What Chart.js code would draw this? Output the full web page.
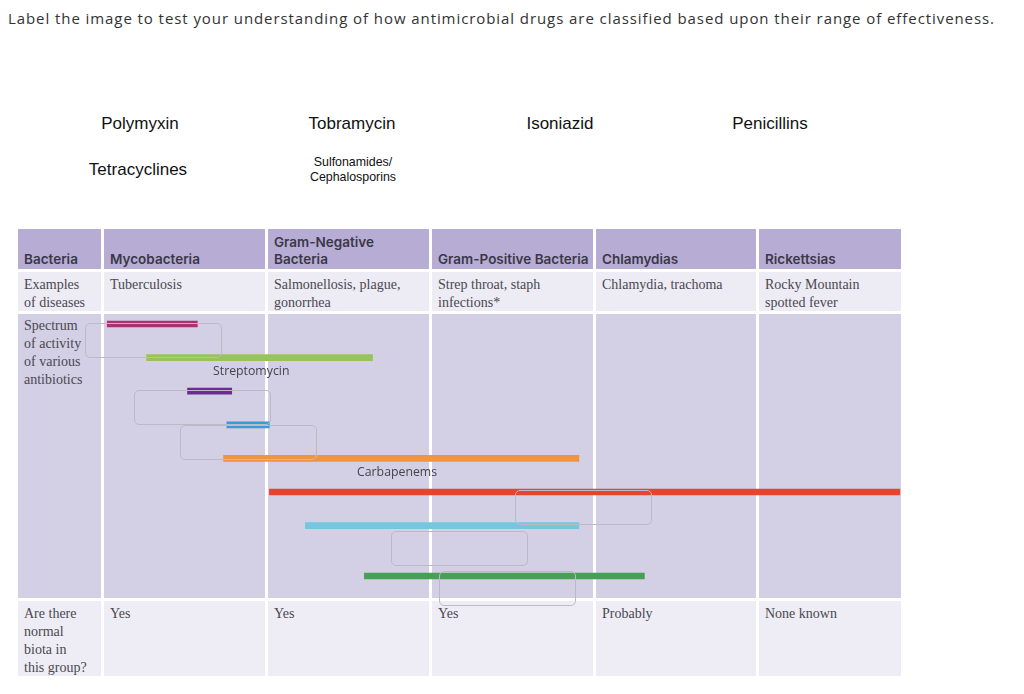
<!DOCTYPE html>
<html>
<head>
<meta charset="utf-8">
<script src="https://cdn.jsdelivr.net/npm/chart.js@4.4.0/dist/chart.umd.min.js"></script>
<style>
    html, body { margin: 0; padding: 0; background: #fff; }
    body { width: 1024px; height: 694px; position: relative; overflow: hidden; }
    .title { position: absolute; left: 8px; top: 8px; font: 15px "Open Sans", Lato, sans-serif; color: #333; white-space: nowrap; }
    .word { position: absolute; font: 17px "Liberation Sans", Arial, sans-serif; color: #111; transform: translateX(-50%); white-space: nowrap; text-align: center; }
    .word.small { font-size: 12.4px; line-height: 15px; }
    .table {
        position: absolute; left: 18px; top: 229px;
        display: grid;
        grid-template-columns: 83px 161px 161px 161px 160px 142px;
        grid-template-rows: 40px 39px 284px 75px;
        gap: 3px;
        background: #fff;
    }
    .cell { box-sizing: border-box; padding: 4px 6px; }
    .head { background: #b7add4; font: 600 13.5px Inter, "Open Sans", sans-serif; color: #3a3848; display: flex; align-items: flex-end; padding: 0 0 1px 6px; line-height: 17px; white-space: nowrap; }
    .ex { background: #edebf4; font: 14px "Liberation Serif", serif; color: #4a4850; line-height: 18px; padding-top: 4px; }
    .spec { background: #d3cfe5; font: 14px "Liberation Serif", serif; color: #4a4850; line-height: 18px; padding-top: 3px; }
    .bio { background: #eeedf5; font: 14px "Liberation Serif", serif; color: #4a4850; line-height: 18px; padding-top: 4px; }
    .drop { position: absolute; border: 1px solid #bdbac6; border-radius: 5px; box-sizing: border-box; width: 137px; height: 35px; z-index: 3; }
    .lbl { position: absolute; font: 12.3px "Open Sans", sans-serif; color: #46444f; z-index: 3; white-space: nowrap; }
    #chart { position: absolute; left: 0; top: 0; z-index: 2; pointer-events: none; }
</style>
</head>
<body>
<div class="title" id="title">Label the image to test your understanding of how antimicrobial drugs are classified based upon their range of effectiveness.</div>

<div class="word" style="left:140px; top:114px;">Polymyxin</div>
<div class="word" style="left:352px; top:114px;">Tobramycin</div>
<div class="word" style="left:560px; top:114px;">Isoniazid</div>
<div class="word" style="left:770px; top:114px;">Penicillins</div>
<div class="word" style="left:138px; top:160px;">Tetracyclines</div>
<div class="word small" style="left:353px; top:155px;">Sulfonamides/<br>Cephalosporins</div>

<div class="table" id="table"></div>

<div class="drop" style="left:85px; top:323px;"></div>
<div class="drop" style="left:134px; top:390px;"></div>
<div class="drop" style="left:180px; top:425px;"></div>
<div class="drop" style="left:515px; top:490px;"></div>
<div class="drop" style="left:391px; top:531px;"></div>
<div class="drop" style="left:439px; top:571px;"></div>

<div class="lbl" style="left:213px; top:362px;">Streptomycin</div>
<div class="lbl" style="left:357px; top:463px;">Carbapenems</div>

<canvas id="chart" width="1024" height="694"></canvas>

<script>
    // --- Table text ---
    const groups = ["Bacteria", "Mycobacteria", "Gram-Negative<br>Bacteria", "Gram-Positive Bacteria", "Chlamydias", "Rickettsias"];
    const diseases = ["Examples<br>of diseases", "Tuberculosis", "Salmonellosis, plague,<br>gonorrhea", "Strep throat, staph<br>infections*", "Chlamydia, trachoma", "Rocky Mountain<br>spotted fever"];
    const spectrumRow = ["Spectrum<br>of activity<br>of various<br>antibiotics", "", "", "", "", ""];
    const normalBiota = ["Are there<br>normal<br>biota in<br>this group?", "Yes", "Yes", "Yes", "Probably", "None known"];

    // --- Antibiotic spectrum bars (x in column units: 0 = left edge of Mycobacteria) ---
    const barStarts = [0.02, 0.26, 0.51, 0.75, 0.73, 1.01, 1.23, 1.59];
    const barEnds   = [0.57, 1.64, 0.78, 1.01, 2.90, 4.86, 2.90, 3.30];
    const barLanes  = [1, 2, 3, 4, 5, 6, 7, 8.5];
    const barColors = ["#a8336e", "#97c459", "#6a2d8f", "#3c9ad6", "#ef9443", "#e5442f", "#73c7de", "#47a056"];

    // stretch the title to the width it has in the picture
    const titleEl = document.getElementById("title");
    const titleText = titleEl.textContent;
    const extra = (987 - titleEl.getBoundingClientRect().width) / titleText.length;
    titleEl.style.letterSpacing = extra.toFixed(3) + "px";

    const tableEl = document.getElementById("table");
    [[groups, "head"], [diseases, "ex"], [spectrumRow, "spec"], [normalBiota, "bio"]].forEach(([row, cls]) => {
        row.forEach(text => {
            const div = document.createElement("div");
            div.className = "cell " + cls;
            div.innerHTML = text ? "<span>" + text + "</span>" : "";
            tableEl.appendChild(div);
        });
    });

    new Chart(document.getElementById("chart").getContext("2d"), {
        type: "bar",
        data: {
            datasets: [{
                data: barStarts.map((s, i) => ({ x: [s, barEnds[i]], y: barLanes[i] })),
                backgroundColor: barColors,
                borderWidth: 0,
                barThickness: 6,
                borderSkipped: false
            }]
        },
        options: {
            indexAxis: "y",
            responsive: false,
            animation: false,
            layout: { padding: { left: 104, right: 101.25, top: 307.2, bottom: 101.2 } },
            scales: {
                x: { type: "linear", min: 0, max: 5, display: false, offset: false },
                y: { type: "linear", min: 0.5, max: 9, reverse: true, display: false, offset: false }
            },
            plugins: {
                legend: { display: false },
                tooltip: { enabled: false }
            }
        }
    });
</script>
</body>
</html>
